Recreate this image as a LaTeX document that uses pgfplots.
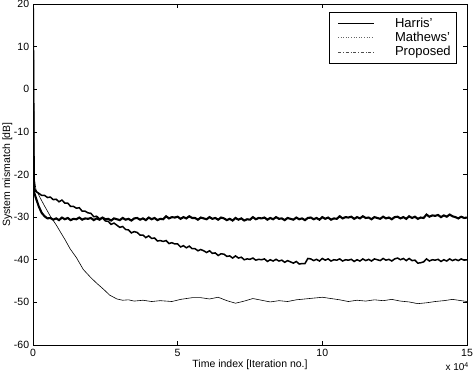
\documentclass[border=0pt]{standalone}
\usepackage{fontspec}
\setmainfont{Liberation Sans}
\usepackage{pgfplots}
\pgfplotsset{compat=1.18}
\begin{document}
\fontsize{11}{13}\selectfont
\begin{tikzpicture}
\begin{axis}[
  scale only axis,
  width=434pt, height=341pt,
  xmin=0, xmax=15, ymin=-60, ymax=20,
  xtick={0,5,10,15}, ytick={-60,-50,...,20},
  tick align=inside, major tick length=4pt,
  tick style={black, line width=0.5pt},
  axis line style={black, line width=0.6pt},
  /pgf/number format/assume math mode=true,
  tick label style={font=\fontsize{10.5}{12}\selectfont},
  xlabel={Time index [Iteration no.]},
  ylabel={System mismatch [dB]},
  label style={font=\fontsize{10.5}{12}\selectfont},
  xlabel style={yshift=4pt},
  ylabel style={yshift=-6pt},
  legend style={at={(0.977,0.977)}, anchor=north east, draw=black, line width=0.6pt,
    font=\fontsize{13}{13}\selectfont, row sep=-1pt, inner xsep=6pt, inner ysep=4pt,
    nodes={inner xsep=0pt}},
  legend cell align=left,
  legend image code/.code={\path[draw=none,fill=none] (0pt,0pt) -- (60pt,0pt); \draw[#1] (3pt,0pt) -- (38.5pt,0pt);},
  clip mode=individual,
]
% smooth curve (-50)
\addplot[black, line width=0.6pt, forget plot] coordinates {
(0,19) (0.03,-20) (0.1,-23.5) (0.25,-25.5) (0.4,-27.4) (0.6,-29.8) (0.8,-31.8) (0.94,-33.4)
(1.1,-35.2) (1.28,-37.4) (1.5,-39.5) (1.74,-42.3) (2.0,-44.2) (2.2,-45.5) (2.45,-47.0)
(2.65,-48.3) (2.9,-49.2) (3.1,-49.5) (3.3,-49.4) (3.5,-49.7) (3.8,-49.5) (4.1,-49.8)
(4.4,-49.6) (4.8,-49.8) (5.1,-49.3) (5.5,-48.9) (5.8,-48.9) (6.1,-49.2) (6.4,-48.8)
(6.7,-49.6) (7.0,-50.2) (7.3,-49.7) (7.6,-49.1) (7.9,-49.5) (8.2,-49.9) (8.5,-49.6)
(8.8,-49.8) (9.1,-49.4) (9.4,-49.2) (9.7,-49.0) (10.0,-48.8) (10.3,-49.1) (10.6,-49.4)
(10.9,-49.8) (11.2,-49.5) (11.5,-49.7) (11.8,-49.4) (12.1,-49.6) (12.4,-49.3) (12.7,-49.7)
(13.0,-49.9) (13.3,-50.3) (13.6,-50.1) (13.9,-49.8) (14.2,-49.6) (14.5,-49.3) (14.8,-49.6)
(15,-49.8)
};
% fast curve (-30)
\addplot[black, line width=2.1pt, forget plot] coordinates {
(0,19) (0.03,-24) (0.1,-25.5) (0.2,-27.5) (0.3,-29) (0.4,-29.8) (0.5,-30.3)
(0.6,-30.2) (0.7,-30.6) (0.8,-30.3) (0.9,-30.7) (1.0,-30.1) (1.1,-30.5) (1.2,-30.2) (1.3,-30.7) (1.4,-30.4) (1.5,-30.5)
(1.6,-30.1) (1.7,-30.6) (1.8,-30.3) (1.9,-30.4) (2.0,-30.2) (2.1,-30.7) (2.2,-30.3) (2.3,-30.6) (2.4,-30.1) (2.5,-30.5)
(2.6,-30.4) (2.7,-30.8) (2.8,-30.3) (2.9,-30.5) (3.0,-30.7) (3.1,-30.2) (3.2,-30.6) (3.3,-30.4) (3.4,-30.8) (3.5,-30.3)
(3.6,-30.2) (3.7,-30.6) (3.8,-30.3) (3.9,-30.7) (4.0,-30.1) (4.1,-30.5) (4.2,-30.2) (4.3,-30.7) (4.4,-30.4) (4.5,-30.5)
(4.6,-29.8) (4.7,-30.3) (4.8,-30.0) (4.9,-30.1) (5.0,-29.9) (5.1,-30.4) (5.2,-30.0) (5.3,-30.3) (5.4,-29.8) (5.5,-30.2)
(5.6,-30.2) (5.7,-30.6) (5.8,-30.1) (5.9,-30.3) (6.0,-30.5) (6.1,-30.0) (6.2,-30.4) (6.3,-30.2) (6.4,-30.6) (6.5,-30.1)
(6.6,-30.3) (6.7,-30.7) (6.8,-30.4) (6.9,-30.8) (7.0,-30.2) (7.1,-30.6) (7.2,-30.3) (7.3,-30.8) (7.4,-30.5) (7.5,-30.6)
(7.6,-30.0) (7.7,-30.5) (7.8,-30.2) (7.9,-30.3) (8.0,-30.1) (8.1,-30.6) (8.2,-30.2) (8.3,-30.5) (8.4,-30.0) (8.5,-30.4)
(8.6,-30.3) (8.7,-30.7) (8.8,-30.2) (8.9,-30.4) (9.0,-30.6) (9.1,-30.1) (9.2,-30.5) (9.3,-30.3) (9.4,-30.7) (9.5,-30.2)
(9.6,-30.1) (9.7,-30.5) (9.8,-30.2) (9.9,-30.6) (10.0,-30.0) (10.1,-30.4) (10.2,-30.1) (10.3,-30.6) (10.4,-30.3) (10.5,-30.4)
(10.6,-29.8) (10.7,-30.3) (10.8,-30.0) (10.9,-30.1) (11.0,-29.9) (11.1,-30.4) (11.2,-30.0) (11.3,-30.3) (11.4,-29.8) (11.5,-30.2)
(11.6,-30.1) (11.7,-30.5) (11.8,-30.0) (11.9,-30.2) (12.0,-30.4) (12.1,-29.9) (12.2,-30.3) (12.3,-30.1) (12.4,-30.5) (12.5,-30.0)
(12.6,-29.9) (12.7,-30.3) (12.8,-30.0) (12.9,-30.4) (13.0,-29.8) (13.1,-30.2) (13.2,-29.9) (13.3,-30.4) (13.4,-30.1) (13.5,-30.2)
(13.6,-29.4) (13.7,-29.9) (13.8,-29.6) (13.9,-29.7) (14.0,-29.5) (14.1,-30.0) (14.2,-29.6) (14.3,-29.9) (14.4,-29.4) (14.5,-29.8)
(14.6,-30.0) (14.7,-30.3) (14.8,-29.9) (14.9,-30.2) (15.0,-30.1)
};
% slow curve (-40)
\addplot[black, line width=1.5pt, forget plot] coordinates {
(0,19) (0.03,-23) (0.1,-24) (0.2,-24.4) (0.3,-24.9) (0.4,-24.9) (0.5,-25.4)
(0.6,-25.3) (0.7,-25.9) (0.8,-25.8) (0.9,-26.4) (1.0,-26.0) (1.1,-26.7) (1.2,-26.7) (1.3,-27.5) (1.4,-27.5) (1.5,-27.9)
(1.6,-27.8) (1.7,-28.6) (1.8,-28.6) (1.9,-29.0) (2.0,-29.1) (2.1,-29.9) (2.2,-29.8) (2.3,-30.4) (2.4,-30.2) (2.5,-30.9)
(2.6,-31.0) (2.7,-31.7) (2.8,-31.4) (2.9,-31.9) (3.0,-32.4) (3.1,-32.2) (3.2,-32.9) (3.3,-33.0) (3.4,-33.7) (3.5,-33.4)
(3.6,-33.6) (3.7,-34.2) (3.8,-34.2) (3.9,-34.8) (4.0,-34.4) (4.1,-35.0) (4.2,-34.9) (4.3,-35.6) (4.4,-35.5) (4.5,-35.7)
(4.6,-35.5) (4.7,-36.2) (4.8,-36.0) (4.9,-36.3) (5.0,-36.3) (5.1,-37.0) (5.2,-36.7) (5.3,-37.2) (5.4,-36.8) (5.5,-37.4)
(5.6,-37.4) (5.7,-37.9) (5.8,-37.6) (5.9,-37.9) (6.0,-38.3) (6.1,-37.9) (6.2,-38.5) (6.3,-38.4) (6.4,-39.0) (6.5,-38.6)
(6.6,-38.7) (6.7,-39.2) (6.8,-39.1) (6.9,-39.6) (7.0,-39.1) (7.1,-39.6) (7.2,-39.4) (7.3,-40.0) (7.4,-39.8) (7.5,-39.9)
(7.6,-39.6) (7.7,-40.1) (7.8,-39.9) (7.9,-40.0) (8.0,-39.8) (8.1,-40.4) (8.2,-40.0) (8.3,-40.3) (8.4,-39.9) (8.5,-40.3)
(8.6,-40.1) (8.7,-40.6) (8.8,-40.2) (8.9,-40.5) (9.0,-40.8) (9.1,-40.4) (9.2,-41.0) (9.3,-40.9) (9.4,-40.9) (9.5,-39.7)
(9.6,-39.8) (9.7,-40.2) (9.8,-39.9) (9.9,-40.3) (10.0,-39.7) (10.1,-40.1) (10.2,-39.8) (10.3,-40.3) (10.4,-40.0) (10.5,-40.1)
(10.6,-39.8) (10.7,-40.3) (10.8,-40.0) (10.9,-40.1) (11.0,-39.9) (11.1,-40.4) (11.2,-40.0) (11.3,-40.3) (11.4,-39.8) (11.5,-40.2)
(11.6,-39.9) (11.7,-40.3) (11.8,-39.8) (11.9,-40.0) (12.0,-40.2) (12.1,-39.7) (12.2,-40.1) (12.3,-39.9) (12.4,-40.3) (12.5,-39.8)
(12.6,-39.6) (12.7,-40.0) (12.8,-39.7) (12.9,-40.2) (13.0,-39.7) (13.1,-40.2) (13.2,-40.1) (13.3,-40.8) (13.4,-40.7) (13.5,-40.5)
(13.6,-39.8) (13.7,-40.3) (13.8,-40.0) (13.9,-40.1) (14.0,-39.9) (14.1,-40.4) (14.2,-40.0) (14.3,-40.3) (14.4,-39.8) (14.5,-40.2)
(14.6,-39.9) (14.7,-40.2) (14.8,-39.8) (14.9,-40.1) (15.0,-40.0)
};
\addlegendimage{black, line width=0.6pt}
\addlegendentry{Harris'}
\addlegendimage{black!60, dotted, line width=0.6pt}
\addlegendentry{Mathews'}
\addlegendimage{black!70, dash dot, line width=0.6pt}
\addlegendentry{Proposed}
\end{axis}
\node[anchor=north east, font=\fontsize{10}{11}\selectfont, inner sep=0pt] at (436pt,-17pt) {x 10$^{\mathrm{4}}$};
\pgfresetboundingbox
\path (-33pt,-29pt) rectangle (441pt,345pt);
\end{tikzpicture}
\end{document}
